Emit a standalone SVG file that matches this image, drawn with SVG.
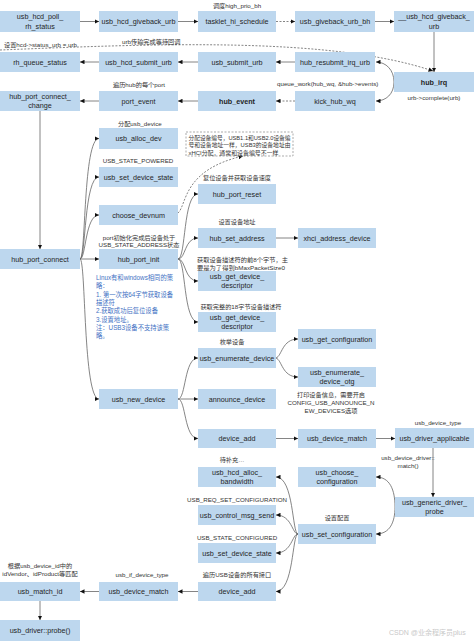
<svg xmlns="http://www.w3.org/2000/svg" width="474" height="641" viewBox="0 0 474 641">
<style>
.bx{fill:#bdd7ee}
.t{font-family:"Liberation Sans","Noto Sans CJK SC",sans-serif;font-size:7.2px;fill:#1f1f1f;text-anchor:middle}
.bd{font-weight:bold}
.l{font-family:"Liberation Sans","Noto Sans CJK SC",sans-serif;font-size:6.2px;fill:#333}
.c{text-anchor:middle}
.n{fill:#4472c4;font-size:6.3px}
.ln{stroke:#666;stroke-width:0.8;fill:none;marker-end:url(#ah)}
.ds{stroke-dasharray:2 1.5}
</style>
<defs>
<marker id="ah" viewBox="0 0 6 6" refX="6" refY="3" markerWidth="4.5" markerHeight="4.5" markerUnits="userSpaceOnUse" orient="auto"><path d="M0,0 L6,3 L0,6 z" fill="#111"/></marker>
</defs>
<rect width="474" height="641" fill="#fff"/>

<g id="connectors">
<path class="ln" d="M80 21.5 L99 21.5"/>
<path class="ln" d="M178 21.5 L198 21.5"/>
<path class="ln ds" d="M276 21.5 L295 21.5"/>
<path class="ln" d="M375 21.5 L394 21.5"/>
<path class="ln" d="M434 32 L434 72"/>
<path class="ln ds" d="M0 50 C150 44, 330 36, 433 71"/>
<path class="ln" d="M295 62 L276 62"/>
<path class="ln" d="M198 62 L178 62"/>
<path class="ln" d="M99 62 L80 62"/>
<path class="ln" d="M394 82 C394 70, 386 62, 376 62"/>
<path class="ln" d="M394 82 C394 94, 386 101, 376 101"/>
<path class="ln ds" d="M295 101 L276 101"/>
<path class="ln" d="M198 101 L178 101"/>
<path class="ln" d="M99 101 L80 101"/>
<path class="ln" d="M40 111 L40 249"/>
<path class="ln" d="M80 259 C86 259, 83 138.5, 99 138.5"/>
<path class="ln" d="M80 259 C86 259, 84 177, 99 177"/>
<path class="ln" d="M80 259 C86 259, 85 215, 99 215"/>
<path class="ln" d="M80 259 L99 259"/>
<path class="ln" d="M80 259 C86 259, 83 399, 99 399"/>
<path class="ln ds" d="M178 213 C187 205, 182 170, 243 156"/>
<path class="ln" d="M178 259 C186 259, 183 194, 198 194"/>
<path class="ln" d="M178 259 C186 259, 184 238, 198 238"/>
<path class="ln" d="M178 259 C186 259, 184 281, 198 281"/>
<path class="ln" d="M178 259 C186 259, 183 322, 198 322"/>
<path class="ln" d="M276 238 L298 238"/>
<path class="ln" d="M178 399 C186 399, 184 358, 198 358"/>
<path class="ln" d="M178 399 L198 399"/>
<path class="ln" d="M178 399 C186 399, 184 438.5, 198 438.5"/>
<path class="ln" d="M276 358 C282 356, 282 339, 298 339"/>
<path class="ln" d="M276 358 C282 360, 282 377, 298 377"/>
<path class="ln" d="M276 438.5 L298 438.5"/>
<path class="ln" d="M376 438.5 L395 438.5"/>
<path class="ln" d="M433 448 L433 497"/>
<path class="ln" d="M395 507 C395 490, 390 477, 376 477"/>
<path class="ln" d="M395 507 C395 522, 390 534, 376 534"/>
<path class="ln" d="M298 534 C292 534, 294 477, 276 477"/>
<path class="ln" d="M298 534 C292 534, 292 515, 276 515"/>
<path class="ln" d="M298 534 C292 534, 292 553, 276 553"/>
<path class="ln" d="M298 534 C292 534, 294 591.5, 276 591.5"/>
<path class="ln" d="M198 591.5 L178 591.5"/>
<path class="ln" d="M99 591.5 L80 591.5"/>
<path class="ln" d="M40 601 L40 620"/>
</g>

<g id="usb_hcd_poll_rh_status"><rect class="bx" x="0" y="11" width="80" height="21"/><text class="t" x="40" y="18.5">usb_hcd_poll_</text><text class="t" x="40" y="28.5">rh_status</text></g>
<g id="usb_hcd_giveback_urb"><rect class="bx" x="99" y="11" width="79" height="21"/><text class="t" x="138.5" y="24">usb_hcd_giveback_urb</text></g>
<g id="tasklet_hi_schedule"><rect class="bx" x="198" y="11" width="78" height="21"/><text class="t" x="237" y="24">tasklet_hi_schedule</text></g>
<g id="usb_giveback_urb_bh"><rect class="bx" x="295" y="11" width="80" height="21"/><text class="t" x="335" y="24">usb_giveback_urb_bh</text></g>
<g id="__usb_hcd_giveback_urb"><rect class="bx" x="394" y="11" width="80" height="21"/><text class="t" x="434" y="18.5">__usb_hcd_giveback_</text><text class="t" x="434" y="28.5">urb</text></g>

<g id="rh_queue_status"><rect class="bx" x="0" y="52" width="80" height="20"/><text class="t" x="40" y="64.5">rh_queue_status</text></g>
<g id="usb_hcd_submit_urb"><rect class="bx" x="99" y="52" width="79" height="20"/><text class="t" x="138.5" y="64.5">usb_hcd_submit_urb</text></g>
<g id="usb_submit_urb"><rect class="bx" x="198" y="52" width="78" height="20"/><text class="t" x="237" y="64.5">usb_submit_urb</text></g>
<g id="hub_resubmit_irq_urb"><rect class="bx" x="295" y="52" width="80" height="20"/><text class="t" x="335" y="64.5">hub_resubmit_irq_urb</text></g>
<g id="hub_irq"><rect class="bx" x="394" y="72" width="80" height="20"/><text class="t bd" x="434" y="84.5">hub_irq</text></g>

<g id="hub_port_connect_change"><rect class="bx" x="0" y="91" width="80" height="20"/><text class="t" x="40" y="98.5">hub_port_connect_</text><text class="t" x="40" y="108">change</text></g>
<g id="port_event"><rect class="bx" x="99" y="91" width="79" height="20"/><text class="t" x="138.5" y="103.5">port_event</text></g>
<g id="hub_event"><rect class="bx" x="198" y="91" width="78" height="20"/><text class="t bd" x="237" y="103.5">hub_event</text></g>
<g id="kick_hub_wq"><rect class="bx" x="295" y="91" width="80" height="20"/><text class="t" x="335" y="103.5">kick_hub_wq</text></g>

<g id="usb_alloc_dev"><rect class="bx" x="99" y="128" width="79" height="21"/><text class="t" x="138.5" y="141">usb_alloc_dev</text></g>
<g id="note_devnum"><rect x="186" y="132" width="107" height="24" fill="#fff" stroke="#888" stroke-width="0.7" stroke-dasharray="2 1.5"/>
<text class="l" x="188.5" y="139.8" style="font-size:5.9px" textLength="102" lengthAdjust="spacingAndGlyphs">分配设备编号，USB1.1和USB2.0设备编</text>
<text class="l" x="188.5" y="147.3" style="font-size:5.9px" textLength="102" lengthAdjust="spacingAndGlyphs">号和设备地址一样，USB3的设备地址由</text>
<text class="l" x="188.5" y="154.6" style="font-size:5.9px" textLength="90" lengthAdjust="spacingAndGlyphs">xHCI分配，通常和设备编号不一样</text></g>
<g id="usb_set_device_state"><rect class="bx" x="99" y="167" width="79" height="20"/><text class="t" x="138.5" y="179.5">usb_set_device_state</text></g>
<g id="choose_devnum"><rect class="bx" x="99" y="205" width="79" height="20"/><text class="t" x="138.5" y="217.5">choose_devnum</text></g>
<g id="hub_port_connect"><rect class="bx" x="0" y="249" width="80" height="20"/><text class="t" x="40" y="261.5">hub_port_connect</text></g>
<g id="hub_port_init"><rect class="bx" x="99" y="249" width="79" height="20"/><text class="t" x="138.5" y="261.5">hub_port_init</text></g>
<g id="usb_new_device"><rect class="bx" x="99" y="389" width="79" height="20"/><text class="t" x="138.5" y="401.5">usb_new_device</text></g>

<g id="hub_port_reset"><rect class="bx" x="198" y="184" width="78" height="20"/><text class="t" x="237" y="196.5">hub_port_reset</text></g>
<g id="hub_set_address"><rect class="bx" x="198" y="228" width="78" height="20"/><text class="t" x="237" y="240.5">hub_set_address</text></g>
<g id="xhci_address_device"><rect class="bx" x="298" y="228" width="78" height="20"/><text class="t" x="337" y="240.5">xhci_address_device</text></g>
<g id="usb_get_device_descriptor_1"><rect class="bx" x="198" y="271" width="78" height="20"/><text class="t" x="237" y="278.5">usb_get_device_</text><text class="t" x="237" y="288">descriptor</text></g>
<g id="usb_get_device_descriptor_2"><rect class="bx" x="198" y="312" width="78" height="20"/><text class="t" x="237" y="319.5">usb_get_device_</text><text class="t" x="237" y="329">descriptor</text></g>

<g id="usb_enumerate_device"><rect class="bx" x="198" y="348" width="78" height="20"/><text class="t" x="237" y="360.5">usb_enumerate_device</text></g>
<g id="usb_get_configuration"><rect class="bx" x="298" y="329" width="78" height="20"/><text class="t" x="337" y="341.5">usb_get_configuration</text></g>
<g id="usb_enumerate_device_otg"><rect class="bx" x="298" y="367" width="78" height="20"/><text class="t" x="337" y="374.5">usb_enumerate_</text><text class="t" x="337" y="384">device_otg</text></g>
<g id="announce_device"><rect class="bx" x="198" y="389" width="78" height="20"/><text class="t" x="237" y="401.5">announce_device</text></g>
<g id="device_add"><rect class="bx" x="198" y="429" width="78" height="19"/><text class="t" x="237" y="441">device_add</text></g>
<g id="usb_device_match"><rect class="bx" x="298" y="429" width="78" height="19"/><text class="t" x="337" y="441">usb_device_match</text></g>
<g id="usb_driver_applicable"><rect class="bx" x="395" y="428" width="79" height="20"/><text class="t" x="434.5" y="440.5">usb_driver_applicable</text></g>
<g id="usb_generic_driver_probe"><rect class="bx" x="395" y="497" width="79" height="20"/><text class="t" x="434.5" y="504.5">usb_generic_driver_</text><text class="t" x="434.5" y="514">probe</text></g>

<g id="usb_hcd_alloc_bandwidth"><rect class="bx" x="198" y="467" width="78" height="20"/><text class="t" x="237" y="474.5">usb_hcd_alloc_</text><text class="t" x="237" y="484">bandwidth</text></g>
<g id="usb_choose_configuration"><rect class="bx" x="298" y="467" width="78" height="20"/><text class="t" x="337" y="474.5">usb_choose_</text><text class="t" x="337" y="484">configuration</text></g>
<g id="usb_control_msg_send"><rect class="bx" x="198" y="505" width="78" height="20"/><text class="t" x="237" y="517.5">usb_control_msg_send</text></g>
<g id="usb_set_configuration"><rect class="bx" x="298" y="524" width="78" height="20"/><text class="t" x="337" y="536.5">usb_set_configuration</text></g>
<g id="usb_set_device_state_2"><rect class="bx" x="198" y="543" width="78" height="20"/><text class="t" x="237" y="555.5">usb_set_device_state</text></g>
<g id="device_add_2"><rect class="bx" x="198" y="582" width="78" height="19"/><text class="t" x="237" y="594">device_add</text></g>
<g id="usb_device_match_2"><rect class="bx" x="99" y="582" width="79" height="19"/><text class="t" x="138.5" y="594">usb_device_match</text></g>
<g id="usb_match_id"><rect class="bx" x="0" y="582" width="80" height="19"/><text class="t" x="40" y="594">usb_match_id</text></g>
<g id="usb_driver_probe"><rect class="bx" x="0" y="620" width="80" height="21"/><text class="t" x="40" y="633">usb_driver::probe()</text></g>

<g id="labels">
<text class="l c" x="237" y="8">调度high_prio_bh</text>
<text class="l" x="4" y="47">设置hcd-&gt;status_urb = urb</text>
<text class="l" x="122" y="44">urb传输完成等待回调</text>
<text class="l" x="113" y="87">遍历hub的每个port</text>
<text class="l" x="277" y="86">queue_work(hub_wq, &amp;hub-&gt;events)</text>
<text class="l c" x="434" y="100">urb-&gt;complete(urb)</text>
<text class="l" x="118" y="126">分配usb_device</text>
<text class="l c" x="138" y="163">USB_STATE_POWERED</text>
<text class="l c" x="139" y="239.5">port初始化完成后设备处于</text>
<text class="l c" x="139" y="247">USB_STATE_ADDRESS状态</text>
<text class="l n" x="96" y="280">Linux有和windows相同的策</text>
<text class="l n" x="96" y="288.3">略：</text>
<text class="l n" x="96" y="296.6">1. 第一次按64字节获取设备</text>
<text class="l n" x="96" y="304.9">描述符</text>
<text class="l n" x="96" y="313.2">2.获取成功后复位设备</text>
<text class="l n" x="96" y="321.5">3.设置地址。</text>
<text class="l n" x="96" y="329.8">注：USB3设备不支持该策</text>
<text class="l n" x="96" y="338.1">略。</text>
<text class="l c" x="237" y="180">复位设备并获取设备速度</text>
<text class="l c" x="237" y="224">设置设备地址</text>
<text class="l" x="197" y="261.5" textLength="91" lengthAdjust="spacingAndGlyphs">获取设备描述符的前8个字节，主</text>
<text class="l" x="197" y="269.5" textLength="88" lengthAdjust="spacingAndGlyphs">要是为了得到bMaxPacketSize0</text>
<text class="l c" x="241" y="309">获取完整的18字节设备描述符</text>
<text class="l c" x="232" y="344">枚举设备</text>
<text class="l c" x="331" y="397">打印设备信息，需要开启</text>
<text class="l c" x="331" y="405">CONFIG_USB_ANNOUNCE_N</text>
<text class="l c" x="331" y="413">EW_DEVICES选项</text>
<text class="l c" x="438" y="425">usb_device_type</text>
<text class="l c" x="408" y="460">usb_device_driver::</text>
<text class="l c" x="408" y="468">match()</text>
<text class="l c" x="232" y="462">待补充…</text>
<text class="l c" x="237" y="502">USB_REQ_SET_CONFIGURATION</text>
<text class="l c" x="337" y="520">设置配置</text>
<text class="l c" x="237" y="540">USB_STATE_CONFIGURED</text>
<text class="l c" x="237" y="577">遍历USB设备的所有接口</text>
<text class="l c" x="142" y="577">usb_if_device_type</text>
<text class="l c" x="40" y="568">根据usb_device_id中的</text>
<text class="l c" x="40" y="576">idVendor、idProduct等匹配</text>
<text class="l" x="389" y="635" style="fill:#c8c8c8;font-size:7px">CSDN @业余程序员plus</text>
</g>
</svg>
